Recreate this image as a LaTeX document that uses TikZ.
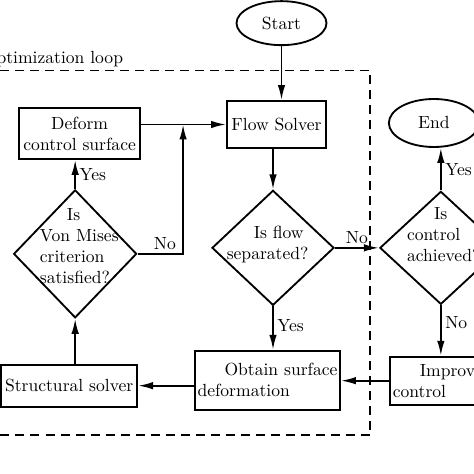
\documentclass[tikz,border=0pt]{standalone}
\usepackage{tikz}
\usetikzlibrary{positioning, arrows.meta, shapes.geometric}

\begin{document}
\begin{tikzpicture}[
    node distance=8mm,
    >={Latex[length=3mm, width=1.5mm]},
    line width=1.05pt,
    terminal/.style={
        ellipse, draw=black, line width=1.05pt,
        minimum width=18mm, minimum height=8.8mm, inner sep=0pt
    },
    process/.style={
        rectangle, draw=black, line width=1.05pt,
        align=center, inner sep=1pt
    },
    widebox/.style={
        rectangle, draw=black, line width=1.05pt,
        text width=28mm, align=left, inner xsep=0.5mm,
        execute at begin node={\hspace*{5.4mm}}
    },
    decision/.style={
        diamond, draw=black, line width=1.05pt, inner sep=0pt,
        minimum width=24.4mm, minimum height=23mm
    },
    dtext/.style={
        text width=16.5mm, align=left, inner sep=0pt,
        execute at begin node={\hspace*{5.4mm}}
    },
    answer/.style={inner sep=2pt},
    loopframe/.style={
        draw=black, line width=0.6pt, dash pattern=on 1.8mm off 1.2mm
    }
]

\useasboundingbox (0,0) rectangle (94.8mm,-94.8mm);

% ============ MIDDLE COLUMN ============
\node[process, minimum width=19.8mm, minimum height=9.4mm] (flow)
    at (55.3mm,-24.9mm) {Flow Solver};
\node[terminal, above=10.8mm of flow, xshift=1mm] (start) {Start};
\node[decision, below=8.1mm of flow, xshift=-0.7mm,
      label={[dtext, xshift=-1mm, yshift=0.7mm]center:{Is flow\\separated?}}]
    (fdec) {};
\node[widebox, minimum height=11.8mm, below=8.7mm of fdec, xshift=-1.1mm]
    (obtain) {Obtain surface\\deformation};

% ============ LEFT COLUMN (structure) ============
\node[process, minimum width=24.2mm, minimum height=10.2mm,
      left=17mm of flow, yshift=-1.8mm] (deform) {Deform\\control surface};
\node[decision, minimum width=24.6mm, minimum height=25.6mm,
      below=5.8mm of deform, xshift=-0.9mm,
      label={[dtext, xshift=1.2mm, yshift=1.5mm]center:{Is\\Von Mises\\criterion\\satisfied?}}]
    (vm) {};
\node[process, minimum width=27.2mm, minimum height=8.4mm,
      below=9mm of vm, xshift=-1.2mm] (struct) {Structural solver};

% ============ RIGHT COLUMN (control) ============
\node[decision, minimum height=22.6mm, right=8.8mm of fdec,
      label={[dtext, xshift=1.5mm, yshift=2.6mm]center:{Is\\control\\achieved?}}]
    (cdec) {};
\node[terminal, minimum height=9.6mm, above=8.5mm of cdec, xshift=-1.4mm]
    (end) {End};
\node[widebox, minimum height=9.6mm, below=10.1mm of cdec, xshift=4.4mm]
    (improve) {Improve\\control};

% ============ ARROWS ============
\draw[->] (start) -- (start |- flow.north);
\draw[->] (fdec.north |- flow.south) -- (fdec.north);
\draw[->] (fdec.south) -- (fdec.south |- obtain.north)
    node[answer, right, pos=0.45] (yes1) {Yes};
\draw[->] (fdec.east) -- (cdec.west)
    node[answer, above, midway] (no1) {No};
\draw[->] (cdec.north) -- (cdec.north |- end.south)
    node[answer, right, midway] (yes2) {Yes};
\draw[->] (cdec.south) -- (cdec.south |- improve.north)
    node[answer, right, pos=0.35] (no2) {No};
\draw[->] (improve.west) -- (improve.west -| obtain.east);
\draw[->] (obtain.west |- struct) -- (struct.east);
\draw[->] (vm.south |- struct.north) -- (vm.south);
\draw[->] (vm.north) -- (vm.north |- deform.south)
    node[answer, right, midway] (yes3) {Yes};
\draw[->] (deform.east |- flow) -- (flow.west);

% No branch joins the deform -> flow line
\coordinate[right=9.1mm of vm.east] (noturn);
\draw[->] (vm.east) -| (noturn |- flow)
    node[answer, above, pos=0.3] (no3) {No};

% ============ OPTIMIZATION LOOP FRAME ============
\coordinate (loopnw) at (-5mm,-14.1mm);
\coordinate (loopse) at (74mm,-87mm);
\draw[loopframe] (loopnw) rectangle (loopse);
\node[inner sep=0.6mm, above right=0mm and 0.8mm of loopnw] (looptitle)
    {Optimization loop};

\end{tikzpicture}
\end{document}
